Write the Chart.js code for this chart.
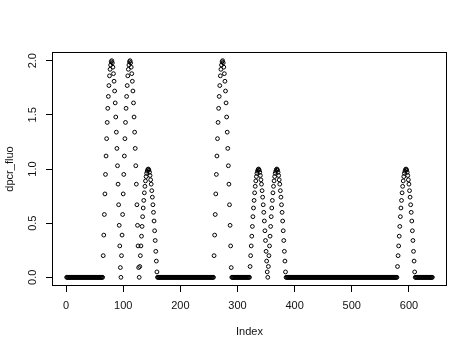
<!DOCTYPE html>
<html>
<head>
<meta charset="utf-8">
<script src="https://cdn.jsdelivr.net/npm/chart.js@4/dist/chart.umd.min.js"></script>
<style>
html,body{margin:0;padding:0;background:#fff;}
#wrap{width:474px;height:351px;}
</style>
</head>
<body>
<div id="wrap"><canvas id="c" width="474" height="351"></canvas></div>
<script>
// ---- data ----
const xTicks = [0, 100, 200, 300, 400, 500, 600];
const xTickLabels = ['0', '100', '200', '300', '400', '500', '600'];
const yTicks = [0, 0.5, 1, 1.5, 2];
const yTickLabels = ['0.0', '0.5', '1.0', '1.5', '2.0'];
const xTitle = 'Index';
const yTitle = 'dpcr_fluo';

// dpcr_fluo values, Index = 1..641
const dpcrFluo = [
// 1-64
0,0,0,0,0,0,0,0,0,0,0,0,0,0,0,0,
0,0,0,0,0,0,0,0,0,0,0,0,0,0,0,0,
0,0,0,0,0,0,0,0,0,0,0,0,0,0,0,0,
0,0,0,0,0,0,0,0,0,0,0,0,0,0,0,0,
// 65-95
0.2,0.39,0.58,0.77,0.95,1.12,1.28,1.43,1.56,1.67,1.77,1.86,1.92,1.96,1.99,2,
1.98,1.94,1.88,1.81,1.72,1.61,1.48,1.34,1.19,1.03,0.86,0.67,0.48,0.29,0.09,
// 96
0,
// 97-127
0.2,0.39,0.58,0.77,0.95,1.12,1.28,1.43,1.56,1.67,1.77,1.86,1.92,1.96,1.99,2,
1.98,1.94,1.88,1.81,1.72,1.61,1.48,1.34,1.19,1.03,0.86,0.67,0.48,0.29,0.09,
// 128
0,
// 129-159
0.1,0.2,0.29,0.38,0.47,0.56,0.64,0.71,0.78,0.84,0.89,0.93,0.96,0.98,0.995,1,
0.99,0.97,0.94,0.9,0.86,0.8,0.74,0.67,0.6,0.52,0.43,0.34,0.24,0.15,0.05,
// 160-258
0,0,0,0,0,0,0,0,0,0,0,0,0,0,0,0,
0,0,0,0,0,0,0,0,0,0,0,0,0,0,0,0,
0,0,0,0,0,0,0,0,0,0,0,0,0,0,0,0,
0,0,0,0,0,0,0,0,0,0,0,0,0,0,0,0,
0,0,0,0,0,0,0,0,0,0,0,0,0,0,0,0,
0,0,0,0,0,0,0,0,0,0,0,0,0,0,0,0,
0,0,0,
// 259-289
0.2,0.39,0.58,0.77,0.95,1.12,1.28,1.43,1.56,1.67,1.77,1.86,1.92,1.96,1.99,2,
1.98,1.94,1.88,1.81,1.72,1.61,1.48,1.34,1.19,1.03,0.86,0.67,0.48,0.29,0.09,
// 290-321
0,0,0,0,0,0,0,0,0,0,0,0,0,0,0,0,
0,0,0,0,0,0,0,0,0,0,0,0,0,0,0,0,
// 322-352
0.1,0.2,0.29,0.38,0.47,0.56,0.64,0.71,0.78,0.84,0.89,0.93,0.96,0.98,0.995,1,
0.99,0.97,0.94,0.9,0.86,0.8,0.74,0.67,0.6,0.52,0.43,0.34,0.24,0.15,0.05,
// 353
0,
// 354-384
0.1,0.2,0.29,0.38,0.47,0.56,0.64,0.71,0.78,0.84,0.89,0.93,0.96,0.98,0.995,1,
0.99,0.97,0.94,0.9,0.86,0.8,0.74,0.67,0.6,0.52,0.43,0.34,0.24,0.15,0.05,
// 385-579
0,0,0,0,0,0,0,0,0,0,0,0,0,0,0,0,
0,0,0,0,0,0,0,0,0,0,0,0,0,0,0,0,
0,0,0,0,0,0,0,0,0,0,0,0,0,0,0,0,
0,0,0,0,0,0,0,0,0,0,0,0,0,0,0,0,
0,0,0,0,0,0,0,0,0,0,0,0,0,0,0,0,
0,0,0,0,0,0,0,0,0,0,0,0,0,0,0,0,
0,0,0,0,0,0,0,0,0,0,0,0,0,0,0,0,
0,0,0,0,0,0,0,0,0,0,0,0,0,0,0,0,
0,0,0,0,0,0,0,0,0,0,0,0,0,0,0,0,
0,0,0,0,0,0,0,0,0,0,0,0,0,0,0,0,
0,0,0,0,0,0,0,0,0,0,0,0,0,0,0,0,
0,0,0,0,0,0,0,0,0,0,0,0,0,0,0,0,
0,0,0,
// 580-610
0.1,0.2,0.29,0.38,0.47,0.56,0.64,0.71,0.78,0.84,0.89,0.93,0.96,0.98,0.995,1,
0.99,0.97,0.94,0.9,0.86,0.8,0.74,0.67,0.6,0.52,0.43,0.34,0.24,0.15,0.05,
// 611-641
0,0,0,0,0,0,0,0,0,0,0,0,0,0,0,0,
0,0,0,0,0,0,0,0,0,0,0,0,0,0,0
];
if (dpcrFluo.length !== 641) throw new Error('length ' + dpcrFluo.length);

const points = dpcrFluo.map((v, i) => ({ x: i + 1, y: v }));

// R-like axis extents (4% padding around data range)
const n = dpcrFluo.length;
const xPad = (n - 1) * 0.04;
const yPad = 2 * 0.04;

const FONT = '"Liberation Sans", Arial, Helvetica, sans-serif';
const INK = '#000';

const boxPlugin = {
  id: 'rbox',
  afterDraw(chart) {
    const { ctx, chartArea: a } = chart;
    ctx.save();
    ctx.strokeStyle = INK;
    ctx.lineWidth = 1;
    const l = Math.round(a.left) + 0.5, t = Math.round(a.top) + 0.5;
    const r = Math.round(a.right) - 0.5, b = Math.round(a.bottom) - 0.5;
    ctx.strokeRect(l, t, r - l, b - t);
    ctx.restore();
  }
};

new Chart(document.getElementById('c'), {
  type: 'scatter',
  data: {
    datasets: [{
      data: points,
      pointStyle: 'circle',
      pointRadius: 1.9,
      pointHoverRadius: 1.9,
      pointBorderWidth: 1,
      borderColor: INK,
      backgroundColor: 'rgba(0,0,0,0)',
      showLine: false
    }]
  },
  plugins: [boxPlugin],
  options: {
    responsive: false,
    devicePixelRatio: 1,
    animation: false,
    events: [],
    layout: { padding: { left: 0, top: 52, right: 27, bottom: 0 } },
    plugins: { legend: { display: false }, tooltip: { enabled: false }, title: { display: false } },
    scales: {
      x: {
        type: 'linear',
        min: 1 - xPad,
        max: n + xPad,
        afterBuildTicks: s => { s.ticks = xTicks.map(v => ({ value: v })); },
        afterFit: s => { s.height = 65; },
        border: { display: false },
        grid: { display: true, drawOnChartArea: false, drawTicks: true, tickLength: 6, color: INK, tickColor: INK, lineWidth: 1 },
        ticks: {
          color: '#111', padding: 7, maxRotation: 0, minRotation: 0, autoSkip: false,
          font: { family: FONT, size: 11 },
          callback: v => xTickLabels[xTicks.indexOf(v)]
        },
        title: { display: true, text: xTitle, color: '#111', font: { family: FONT, size: 11 }, padding: { top: 0, bottom: 12 } }
      },
      y: {
        type: 'linear',
        min: 0 - yPad,
        max: 2 + yPad,
        afterBuildTicks: s => { s.ticks = yTicks.map(v => ({ value: v })); },
        afterFit: s => { s.width = 52; },
        border: { display: false },
        grid: { display: true, drawOnChartArea: false, drawTicks: true, tickLength: 6, color: INK, tickColor: INK, lineWidth: 1 },
        ticks: {
          color: '#111', padding: 5, minRotation: 90, maxRotation: 90, crossAlign: 'center', autoSkip: false,
          font: { family: FONT, size: 11 },
          callback: v => yTickLabels[yTicks.indexOf(v)]
        },
        title: { display: true, text: yTitle, color: '#111', font: { family: FONT, size: 11 }, padding: { top: 3, bottom: 0 } }
      }
    }
  }
});
</script>
</body>
</html>
